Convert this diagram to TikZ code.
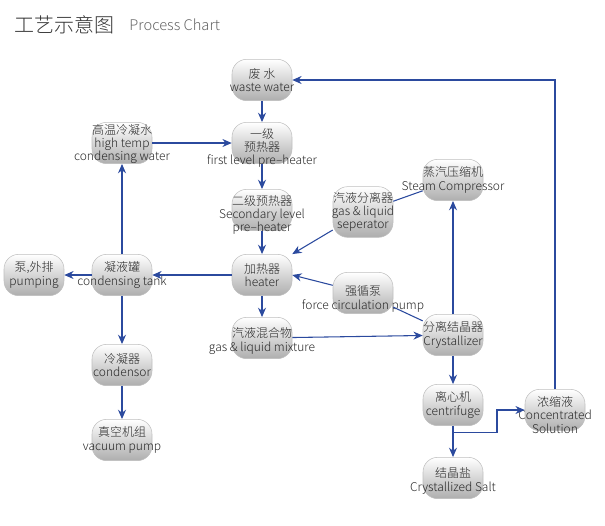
\documentclass[tikz,border=0pt]{standalone}
\usepackage{fontspec}
\setmainfont{Noto Sans CJK SC}[UprightFont=* Light]
\usetikzlibrary{arrows.meta, positioning, calc}
\definecolor{flow}{HTML}{2B4A9E}
\begin{document}
\begin{tikzpicture}[
  x=0.75pt, y=-0.75pt,
  >={Stealth[length=7pt,width=6pt]},
  box/.style={
    draw=black!25, rounded corners=11pt, minimum width=45pt,
    minimum height=31pt, top color=white, bottom color=black!32,
    inner sep=0pt
  },
  lbl/.style={
    font=\fontsize{9}{10}\selectfont, align=center, text=black!85,
    inner sep=0pt
  },
  flw/.style={draw=flow, line width=0.8pt},
]

%%% Frame
\useasboundingbox (0,0) rectangle (605,525);

%%% Title
\node[anchor=west, font=\fontsize{15}{15}\selectfont, text=black!80] (title)
  at (10,25) {工艺示意图};
\node[anchor=west, font=\fontsize{11}{11}\selectfont, text=black!60,
  right=4pt of title] (subtitle) {Process Chart};

%%% Boxes
\node[box] (ww)  at (262,80)  {};
\node[box] (ph1) at (262,143) {};
\node[box] (ph2) at (262,210) {};
\node[box] (ht)  at (262,275) {};
\node[box] (mix) at (262,338) {};
\node[box] (hcw) at (122,143) {};
\node[box] (tank) at (122,275) {};
\node[box] (out) at (34,275)  {};
\node[box] (cnd) at (122,365) {};
\node[box] (vac) at (122,440) {};
\node[box, minimum height=38pt] (sep) at (363,212) {};
\node[box] (cmp) at (453,180) {};
\node[box] (fcp) at (363,293) {};
\node[box] (cry) at (453,335) {};
\node[box] (cen) at (453,405) {};
\node[box] (salt) at (453,478) {};
\node[box] (con) at (555,410) {};

%%% Labels
\node[lbl] at (ww)  {废 水\\waste water};
\node[lbl] at ($(ph1)+(0,5)$) {一级\\预热器\\first level pre--heater};
\node[lbl] at ($(ph2)+(0,5)$) {二级预热器\\Secondary level\\pre--heater};
\node[lbl] at (ht)  {加热器\\heater};
\node[lbl] at ($(mix)+(0,3)$) {汽液混合物\\gas \& liquid mixture};
\node[lbl] at ($(hcw)+(0,1)$) {高温冷凝水\\high temp\\condensing water};
\node[lbl] at (tank) {凝液罐\\condensing tank};
\node[lbl] at (out) {泵,外排\\pumping};
\node[lbl] at (cnd) {冷凝器\\condensor};
\node[lbl] at (vac) {真空机组\\vacuum pump};
\node[lbl] at (sep) {汽液分离器\\gas \& liquid\\seperator};
\node[lbl] at (cmp) {蒸汽压缩机\\Steam Compressor};
\node[lbl] at ($(fcp)+(0,6)$) {强循泵\\force circulation pump};
\node[lbl] at (cry) {分离结晶器\\Crystallizer};
\node[lbl] at (cen) {离心机\\centrifuge};
\node[lbl] at ($(salt)+(0,3)$) {结晶盐\\Crystallized Salt};
\node[lbl] at ($(con)+(0,5)$) {浓缩液\\Concentrated\\Solution};

%%% Connectors
\coordinate (split) at ($(cen.south)+(0,7)$);
\coordinate (bend) at ($(split)+(44,0)$);
\draw[flw, ->] (ww) -- (ph1);
\draw[flw, ->] (ph1) -- (ph2);
\draw[flw, ->] (ph2) -- (ht);
\draw[flw, ->] (ht) -- (mix);
\draw[flw, ->] (mix) -- (cry);
\draw[flw, ->] (hcw) -- (ph1);
\draw[flw, ->] (tank) -- (hcw);
\draw[flw, ->] (ht) -- (tank);
\draw[flw, ->] (tank) -- (out);
\draw[flw, ->] (tank) -- (cnd);
\draw[flw, ->] (cnd) -- (vac);
\draw[flw] (cmp) -- (sep);
\draw[flw, ->] (sep) -- (ht.north east);
\draw[flw, ->] (cry) -- (cmp);
\draw[flw] (cry) -- (fcp);
\draw[flw, ->] (fcp) -- (ht.east);
\draw[flw, ->] (cry) -- (cen);
\draw[flw, ->] (cen) -- (salt);
\draw[flw, ->] (split) -- (bend) |- (con.west);
\draw[flw, ->] (con.north) |- (ww.east);

\end{tikzpicture}
\end{document}
